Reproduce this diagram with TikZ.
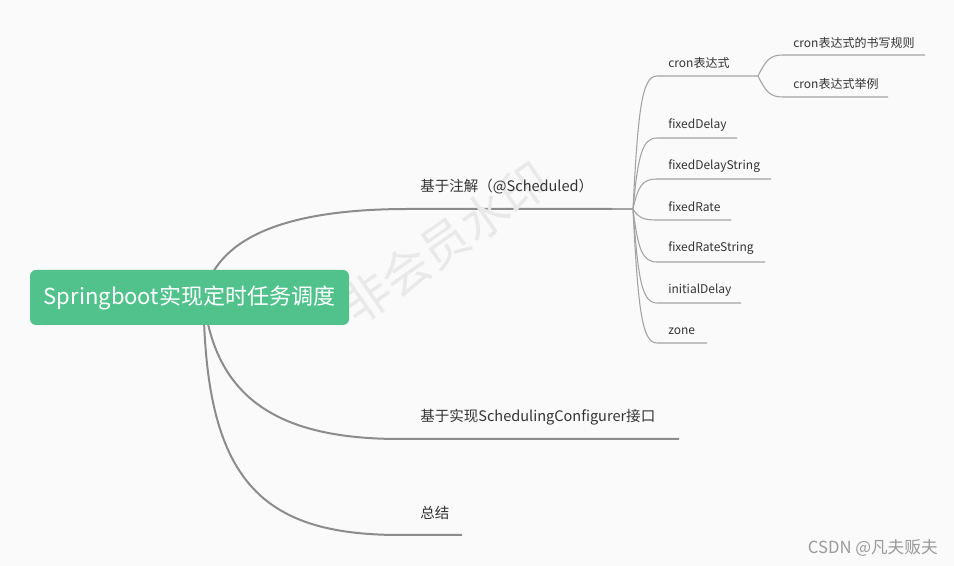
\documentclass[tikz,border=0pt]{standalone}
\usepackage{fontspec}
\setmainfont{Noto Sans CJK SC}
\usetikzlibrary{calc}
\definecolor{bg}{HTML}{FAFAFA}
\definecolor{rootgreen}{HTML}{52C28D}
\definecolor{mainlinecol}{HTML}{8C8C8C}
\definecolor{sublinecol}{HTML}{A3A3A3}
\definecolor{txt}{HTML}{333333}
\definecolor{wm}{HTML}{E9E9E9}
\definecolor{csdn}{HTML}{9A9A9A}
\pgfdeclarelayer{bglayer}
\pgfdeclarelayer{edges}
\pgfsetlayers{bglayer,edges,main}
\begin{document}
\begin{tikzpicture}[x=0.75pt,y=-0.75pt,
  rootbox/.style={fill=rootgreen, rounded corners=4.5pt, minimum width=239.25pt, minimum height=41.25pt, text=white, font=\fontsize{16.5}{18}\selectfont, inner sep=0},
  branchtext/.style={anchor=west, text=txt, font=\fontsize{10.9}{12}\selectfont, inner sep=0},
  childtext/.style={anchor=west, text=txt, font=\fontsize{9}{10}\selectfont, inner sep=0},
  mainedge/.style={draw=mainlinecol, line width=1.5pt},
  subedge/.style={draw=sublinecol, line width=0.8pt},
]
\begin{pgfonlayer}{bglayer}
\fill[bg] (0,0) rectangle (954,566);
\end{pgfonlayer}
\useasboundingbox (0,0) rectangle (954,566);

% watermark
\node[text=wm, rotate=35, font=\fontsize{36}{36}\selectfont, inner sep=0] (wmark) at (445,243) {非会员水印};

% root
\node[rootbox] (root) at (189.5,297.5) {Springboot实现定时任务调度};
\coordinate (r0) at ($(root.center)+(14,0)$);

% main branches
\node[branchtext] (b1) at (420,187) {基于注解（@Scheduled）};
\node[branchtext] (b2) at (420,417) {基于实现SchedulingConfigurer接口};
\node[branchtext] (b3) at (420,513) {总结};
\coordinate (b1s) at (408,209);
\coordinate (b1e) at (612,209);
\coordinate (j1) at (633,209);
\coordinate (b2s) at (400,439);
\coordinate (b2e) at (679,439);
\coordinate (b3s) at (400,535);
\coordinate (b3e) at (462,535);

\begin{pgfonlayer}{edges}
\draw[mainedge] (r0) .. controls (215,240) and (280,209) .. (b1s) -- (b1e);
\draw[subedge] (b1e) -- (j1);
\draw[mainedge] (r0) .. controls (215,400) and (280,439) .. (b2s) -- (b2e);
\draw[mainedge] (r0) .. controls (205,480) and (260,535) .. (b3s) -- (b3e);
\end{pgfonlayer}

% children of branch 1
\foreach \n/\ty/\ly/\xe/\t in {cron/63/76/758/cron表达式, fd/125/138/737/fixedDelay, fds/166/179/771/fixedDelayString, fr/207/220/731/fixedRate, frs/248/262/765/fixedRateString, id/290/303/741/initialDelay, zn/331/343/707/zone} {
  \node[childtext] (c-\n) at (668,\ty) {\t};
  \coordinate (\n-s) at (657,\ly);
  \coordinate (\n-e) at (\xe,\ly);
  \begin{pgfonlayer}{edges}
  \draw[subedge] (j1) .. controls (638,{209+0.75*(\ly-209)}) and (642,\ly) .. (\n-s) -- (\n-e);
  \end{pgfonlayer}
}

% children of cron
\node[childtext] (g1) at (793,43) {cron表达式的书写规则};
\node[childtext] (g2) at (793,84) {cron表达式举例};
\coordinate (g1s) at (783,55);
\coordinate (g1e) at (925,55);
\coordinate (g2s) at (783,97);
\coordinate (g2e) at (888,97);
\begin{pgfonlayer}{edges}
\draw[subedge] (cron-e) .. controls (766,60) and (770,55) .. (g1s) -- (g1e);
\draw[subedge] (cron-e) .. controls (766,92) and (770,97) .. (g2s) -- (g2e);
\end{pgfonlayer}

% csdn mark
\node[anchor=east, text=csdn, font=\fontsize{12.5}{14}\selectfont, inner sep=0] (csdn) at (938,548) {CSDN @凡夫贩夫};
\end{tikzpicture}
\end{document}
